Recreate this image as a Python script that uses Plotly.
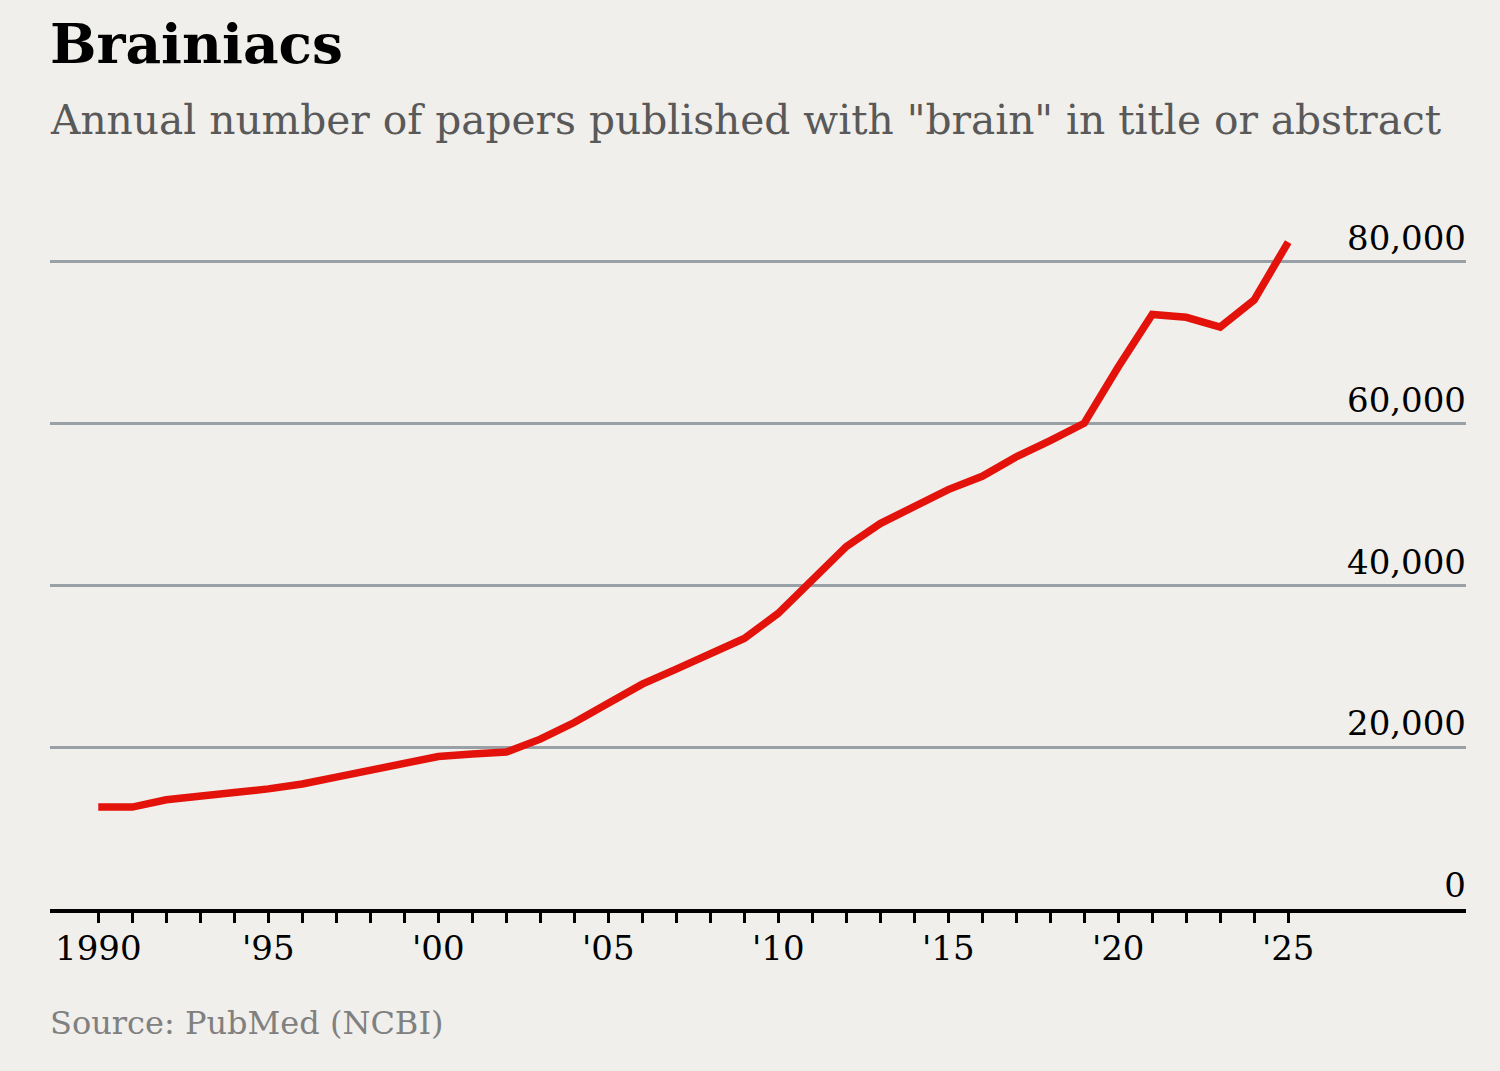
import plotly.graph_objects as go

years = list(range(1990, 2026))
papers = [12600, 12600, 13500, 13850, 14400, 14850, 15450, 16300, 17100, 17950,
          18850, 19150, 19400, 21000, 23050, 25450, 27800, 29650, 31550, 33450,
          36550, 40800, 44800, 47650, 49750, 51850, 53500, 55900, 57900, 60050,
          67000, 73500, 73150, 71950, 75300, 82450]

x_tickvals = [1990, 1995, 2000, 2005, 2010, 2015, 2020, 2025]
x_ticktext = ["1990", "'95", "'00", "'05", "'10", "'15", "'20", "'25"]
y_tickvals = [0, 20000, 40000, 60000, 80000]
y_ticktext = ["0", "20,000", "40,000", "60,000", "80,000"]

title_text = "Brainiacs"
subtitle_text = 'Annual number of papers published with "brain" in title or abstract'
source_text = "Source: PubMed (NCBI)"

BG = "#F0EFEB"
FONT = "DejaVu Serif"

fig = go.Figure()
fig.add_trace(go.Scatter(
    x=years, y=papers, mode="lines",
    line=dict(color="#E3120B", width=7.5),
    hoverinfo="skip", showlegend=False,
))

W, H = 1500, 1071
mt, mb, ml, mr = 181, 162, 50, 34
ph = H - mt - mb

def py(p):
    return (H - mb - p) / ph

fig.update_layout(
    width=W, height=H,
    paper_bgcolor=BG, plot_bgcolor=BG,
    margin=dict(l=ml, r=mr, t=mt, b=mb, pad=0),
    font=dict(family=FONT, color="#000000"),
    xaxis=dict(
        range=[1988.58, 2030.23],
        tickmode="array", tickvals=x_tickvals, ticktext=x_ticktext,
        ticks="outside", ticklen=3, tickwidth=3, tickcolor="#000000",
        showline=True, linecolor="#000000", linewidth=4,
        showgrid=False, zeroline=False,
        tickfont=dict(family=FONT, size=34, color="#000000"),
        ticklabelstandoff=3,
        minor=dict(tickmode="array", tickvals=years, ticks="outside",
                   ticklen=10, tickwidth=3, tickcolor="#000000", showgrid=False),
    ),
    yaxis=dict(
        range=[0, 90000],
        side="right",
        tickmode="array", tickvals=y_tickvals, ticktext=y_ticktext,
        ticklabelposition="inside top",
        ticks="",
        showgrid=True, gridcolor="#9AA1A6", gridwidth=3,
        zeroline=False, showline=False,
        tickfont=dict(family=FONT, size=34, color="#000000"),
        ticklabelstandoff=-3,
    ),
    annotations=[
        dict(text="<b>" + title_text + "</b>", xref="paper", yref="paper",
             x=0, y=py(78), xanchor="left", yanchor="bottom", showarrow=False,
             font=dict(family=FONT, size=55, color="#000000"), xshift=-2),
        dict(text=subtitle_text, xref="paper", yref="paper",
             x=0, y=py(146), xanchor="left", yanchor="bottom", showarrow=False,
             font=dict(family=FONT, size=40.7, color="#595959"), xshift=-2),
        dict(text=source_text, xref="paper", yref="paper",
             x=0, y=py(1044), xanchor="left", yanchor="bottom", showarrow=False,
             font=dict(family=FONT, size=32, color="#808080"), xshift=-2),
    ],
)

fig.write_html("out.html")
